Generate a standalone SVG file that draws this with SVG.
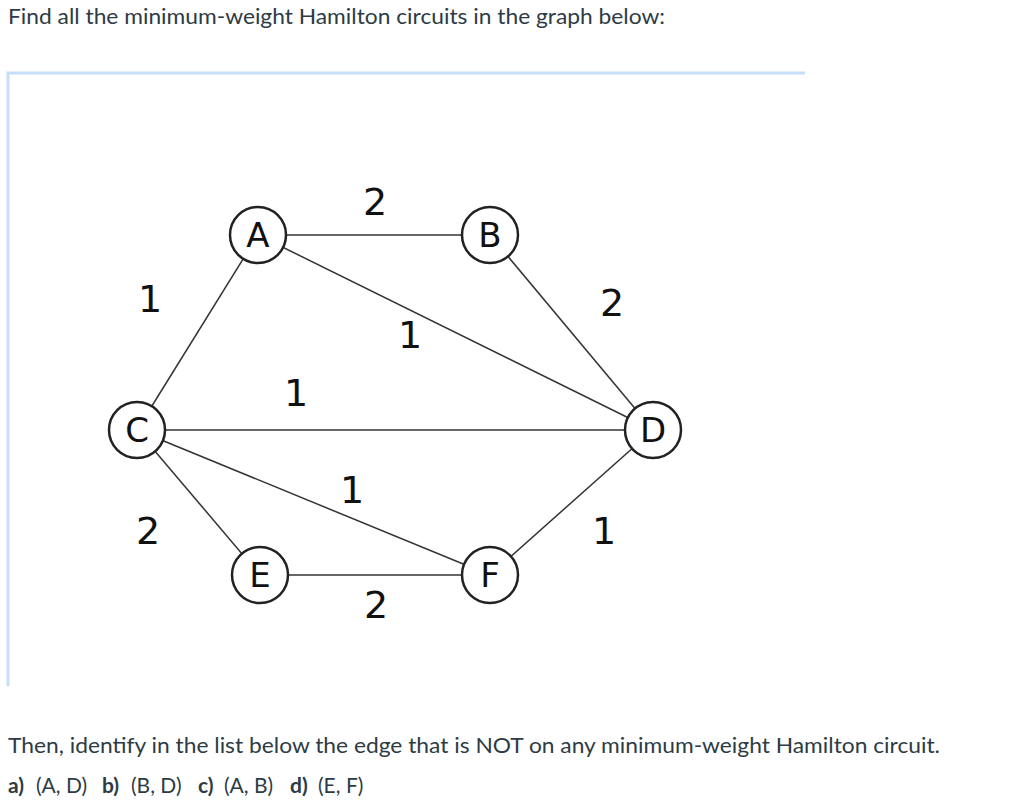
<svg xmlns="http://www.w3.org/2000/svg" width="1024" height="812" viewBox="0 0 1024 812">
<style>
.t{font-family:"Lato","Liberation Sans",sans-serif;font-size:21px;fill:#2d3b45}
.n circle{fill:#fff;stroke:#222;stroke-width:2.5}
.n text,.w{font-family:"DejaVu Sans","Liberation Sans",sans-serif;fill:#111;text-anchor:middle}
.n text{font-size:34px}
.w{font-size:38px}
#edges line{stroke:#333;stroke-width:1.5}
</style>
<rect width="1024" height="812" fill="#fff"/>
<text class="t" x="8" y="24" textLength="657" lengthAdjust="spacingAndGlyphs">Find all the minimum-weight Hamilton circuits in the graph below:</text>
<path d="M8 686V73H805" fill="none" stroke="#c6defa" stroke-width="3"/>
<g id="edges">
<line x1="258" y1="235" x2="490" y2="235"/>
<line x1="258" y1="235" x2="653" y2="430"/>
<line x1="258" y1="235" x2="137" y2="430"/>
<line x1="490" y1="235" x2="653" y2="430"/>
<line x1="137" y1="430" x2="653" y2="430"/>
<line x1="137" y1="430" x2="490" y2="575"/>
<line x1="137" y1="430" x2="260" y2="575"/>
<line x1="260" y1="575" x2="490" y2="575"/>
<line x1="490" y1="575" x2="653" y2="430"/>
</g>
<g id="weights">
<text class="w" x="375" y="215">2</text>
<text class="w" x="150" y="312">1</text>
<text class="w" x="612" y="316">2</text>
<text class="w" x="410" y="348">1</text>
<text class="w" x="296" y="406">1</text>
<text class="w" x="352" y="503">1</text>
<text class="w" x="148" y="544">2</text>
<text class="w" x="604" y="544">1</text>
<text class="w" x="376" y="618">2</text>
</g>
<g id="A" class="n"><circle cx="258" cy="235" r="28"/><text x="258" y="247">A</text></g>
<g id="B" class="n"><circle cx="490" cy="235" r="28"/><text x="490" y="247">B</text></g>
<g id="C" class="n"><circle cx="137" cy="430" r="28"/><text x="137" y="442">C</text></g>
<g id="D" class="n"><circle cx="653" cy="430" r="28"/><text x="653" y="442">D</text></g>
<g id="E" class="n"><circle cx="260" cy="575" r="28"/><text x="260" y="587">E</text></g>
<g id="F" class="n"><circle cx="490" cy="575" r="28"/><text x="490" y="587">F</text></g>
<text class="t" x="8" y="753" textLength="932" lengthAdjust="spacingAndGlyphs">Then, identify in the list below the edge that is NOT on any minimum-weight Hamilton circuit.</text>
<text class="t" y="793"><tspan x="8" font-weight="bold">a)</tspan><tspan x="36">(A, D)</tspan><tspan x="102" font-weight="bold">b)</tspan><tspan x="131">(B, D)</tspan><tspan x="198" font-weight="bold">c)</tspan><tspan x="224">(A, B)</tspan><tspan x="290" font-weight="bold">d)</tspan><tspan x="318">(E, F)</tspan></text>
</svg>
